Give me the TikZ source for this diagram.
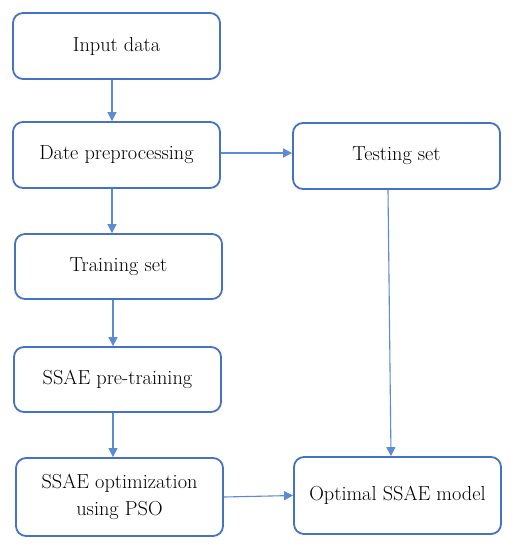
\documentclass[tikz,border=0pt]{standalone}
\usetikzlibrary{arrows.meta}
\definecolor{boxblue}{HTML}{4472C4}
\definecolor{arrblue}{HTML}{5B8AD6}
\begin{document}
\begin{tikzpicture}[x=1pt,y=-1pt,
  box/.style={draw=boxblue,line width=1.8pt,rounded corners=10pt,fill=white,
    minimum width=207pt,minimum height=66pt,align=center,inner sep=2pt,
    font=\fontsize{20.3}{27}\selectfont},
  arr/.style={draw=arrblue,line width=1.1pt,-{Triangle[length=9pt,width=9pt]}}]
\useasboundingbox (0,0) rectangle (521,550);
\node[box] (in) at (116.5,46) {Input data};
\node[box] (date) at (116.5,155) {Date preprocessing};
\node[box] (test) at (396.5,156) {Testing set};
\node[box,minimum height=65pt] (train) at (118.5,266.5) {Training set};
\node[box,minimum height=65pt] (pre) at (117.5,379.5) {SSAE pre-training};
\node[box,minimum height=78pt] (sopt) at (119.5,497) {SSAE optimization\\using PSO};
\node[box,minimum height=77pt] (opt) at (397.5,495.5) {Optimal SSAE model};
\draw[arr] ([xshift=-4.5pt]in.south) -- ([xshift=-4.5pt]in.south |- date.north);
\draw[arr] ([xshift=-4.5pt]date.south) -- ([xshift=-4.5pt]date.south |- train.north);
\draw[arr] ([xshift=-5.5pt]train.south) -- ([xshift=-5.5pt]train.south |- pre.north);
\draw[arr] ([xshift=-4.5pt]pre.south) -- ([xshift=-4.5pt]pre.south |- sopt.north);
\draw[arr] ([yshift=2pt]date.east) -- ([yshift=2pt]date.east -| test.west);
\draw[arr] ([xshift=-8.5pt]test.south) -- ([xshift=-6.5pt]opt.north);
\draw[arr] (sopt.east) -- (opt.west);
\end{tikzpicture}
\end{document}
